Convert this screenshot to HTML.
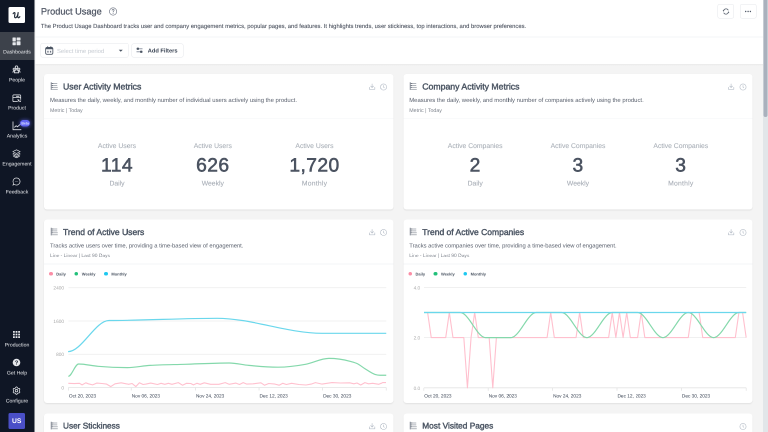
<!DOCTYPE html>
<html><head><meta charset="utf-8"><style>
html,body{margin:0;padding:0;width:768px;height:432px;overflow:hidden;background:#f4f4f4}
#root{position:absolute;left:0;top:0;width:1536px;height:864px;transform:scale(.5);transform-origin:0 0;will-change:transform;background:#f4f4f4;overflow:hidden;font-family:"Liberation Sans",sans-serif}
.t{position:absolute;white-space:nowrap;text-rendering:geometricPrecision}
.card{position:absolute;background:#fff;border-radius:6px;box-shadow:0 2px 3px rgba(0,0,0,.08),0 0 2px rgba(0,0,0,.03)}
</style></head><body><div id="root">
<div style="position:absolute;left:0;top:0;width:69px;height:864px;background:#0f1625"></div>
<div style="position:absolute;left:69px;top:0;width:2px;height:864px;background:#f1f1f1"></div>
<div style="position:absolute;left:17px;top:14px;width:33px;height:32px;background:#fff;border-radius:3px"></div>
<svg style="position:absolute;left:0;top:0" width="68" height="60" viewBox="0 0 68 60"><path d="M26.3,27.4 C27.2,25.2 29.8,24.3 30,26.6 L29.2,32.2 C28.8,35.2 30.8,36.4 32.8,34.6 C34.4,33.1 35.4,30.4 35.9,27.6 L36.3,25.2 L35.4,32.4 C35.1,35.2 36.8,36.2 38.4,34.8 L39.7,33.4" fill="none" stroke="#1f2937" stroke-width="2.3" stroke-linecap="round" stroke-linejoin="round"/></svg>
<div style="position:absolute;left:0;top:64px;width:69px;height:56px;background:#3d424b"></div>
<svg style="position:absolute;left:25px;top:75px;overflow:visible" width="16" height="16" viewBox="0 0 16 16"><rect x="0" y="0" width="6.6" height="8" rx="1" fill="#e5e7eb"/><rect x="8.2" y="0" width="7.8" height="6" rx="1" fill="#e5e7eb"/><rect x="0" y="9.6" width="6.6" height="6" rx="1" fill="#e5e7eb"/><rect x="8.2" y="7.6" width="7.8" height="8" rx="1" fill="#e5e7eb"/></svg>
<div class="t" style="left:-266px;width:600px;text-align:center;top:99.88px;font-size:10.3px;line-height:10.3px;color:#e5e7eb;font-weight:400;">Dashboards</div>
<svg style="position:absolute;left:25px;top:131px;overflow:visible" width="16" height="16" viewBox="0 0 16 16"><g fill="none" stroke="#e5e7eb" stroke-width="1.6"><circle cx="8" cy="3.4" r="2.6"/><circle cx="3.2" cy="7.2" r="2"/><circle cx="12.8" cy="7.2" r="2"/><path d="M0.8,14.2 Q1,10.6 3.6,10.4 M15.2,14.2 Q15,10.6 12.4,10.4 M3.8,14.6 Q4.2,8.6 8,8.4 Q11.8,8.6 12.2,14.6 Z"/></g></svg>
<div class="t" style="left:-266px;width:600px;text-align:center;top:155.88px;font-size:10.3px;line-height:10.3px;color:#e5e7eb;font-weight:400;">People</div>
<svg style="position:absolute;left:25px;top:188.5px;overflow:visible" width="17" height="16" viewBox="0 0 17 16"><g fill="none" stroke="#e5e7eb" stroke-width="1.5"><rect x="0.8" y="0.8" width="15.6" height="13.4" rx="1.8"/><line x1="0.8" y1="6" x2="16.4" y2="6"/></g><rect x="7" y="2.8" width="6.8" height="1.6" rx="0.8" fill="#e5e7eb"/><path d="M8.6,8 L16.8,11.2 L13.4,12.5 L12,16.4 Z" fill="#e5e7eb" stroke="#0f1625" stroke-width="1.1" stroke-linejoin="round"/></svg>
<div class="t" style="left:-266px;width:600px;text-align:center;top:211.88px;font-size:10.3px;line-height:10.3px;color:#e5e7eb;font-weight:400;">Product</div>
<svg style="position:absolute;left:25px;top:243px;overflow:visible" width="16" height="16" viewBox="0 0 16 16"><g fill="none" stroke="#e5e7eb" stroke-width="1.6"><path d="M1,0 V16.4 H17.6"/><path d="M4,11.4 L7.2,8.6 L10,10.4 L15.6,5.6"/></g></svg>
<div class="t" style="left:-266px;width:600px;text-align:center;top:267.88px;font-size:10.3px;line-height:10.3px;color:#e5e7eb;font-weight:400;">Analytics</div>
<svg style="position:absolute;left:25px;top:299px;overflow:visible" width="16" height="16" viewBox="0 0 16 16"><g fill="none" stroke="#e5e7eb" stroke-width="1.2" stroke-linejoin="round"><path d="M8,0.6 L15.4,4.3 L8,8 L0.6,4.3 Z"/><path d="M0.6,7.4 L8,11.1 L15.4,7.4"/><path d="M0.6,10.4 L8,14.1 L15.4,10.4"/><path d="M1.6,13.4 L8,16.6 L14.4,13.4"/></g></svg>
<div class="t" style="left:-266px;width:600px;text-align:center;top:323.88px;font-size:10.3px;line-height:10.3px;color:#e5e7eb;font-weight:400;">Engagement</div>
<svg style="position:absolute;left:25px;top:355px;overflow:visible" width="16" height="16" viewBox="0 0 16 16"><g fill="none" stroke="#e5e7eb" stroke-width="1.3"><path d="M8,0.9 A7.1,7.1 0 1 1 4.2,14 L0.9,15.2 L2.2,11.8 A7.1,7.1 0 0 1 8,0.9 Z"/></g><g fill="#e5e7eb" opacity="0.7"><circle cx="5.6" cy="8" r="0.7"/><circle cx="8" cy="8" r="0.7"/><circle cx="10.4" cy="8" r="0.7"/></g></svg>
<div class="t" style="left:-266px;width:600px;text-align:center;top:379.88px;font-size:10.3px;line-height:10.3px;color:#e5e7eb;font-weight:400;">Feedback</div>
<div style="position:absolute;left:40.4px;top:240px;width:20px;height:13px;border-radius:7px;background:#6366f1;box-shadow:0 0 6px 1px rgba(99,102,241,.55)"></div>
<div class="t" style="left:-249.6px;width:600px;text-align:center;top:244.07px;font-size:7px;line-height:7px;color:#e0e7ff;font-weight:700;">Beta</div>
<svg style="position:absolute;left:26px;top:662px;overflow:visible" width="14" height="14" viewBox="0 0 14 14"><rect x="0" y="0" width="3.6" height="3.6" rx="0.6" fill="#e5e7eb"/><rect x="0" y="5.2" width="3.6" height="3.6" rx="0.6" fill="#e5e7eb"/><rect x="0" y="10.4" width="3.6" height="3.6" rx="0.6" fill="#e5e7eb"/><rect x="5.2" y="0" width="3.6" height="3.6" rx="0.6" fill="#e5e7eb"/><rect x="5.2" y="5.2" width="3.6" height="3.6" rx="0.6" fill="#e5e7eb"/><rect x="5.2" y="10.4" width="3.6" height="3.6" rx="0.6" fill="#e5e7eb"/><rect x="10.4" y="0" width="3.6" height="3.6" rx="0.6" fill="#e5e7eb"/><rect x="10.4" y="5.2" width="3.6" height="3.6" rx="0.6" fill="#e5e7eb"/><rect x="10.4" y="10.4" width="3.6" height="3.6" rx="0.6" fill="#e5e7eb"/></svg>
<div class="t" style="left:-266px;width:600px;text-align:center;top:685.88px;font-size:10.3px;line-height:10.3px;color:#e5e7eb;font-weight:400;">Production</div>
<svg style="position:absolute;left:25px;top:717px;overflow:visible" width="16" height="16" viewBox="0 0 16 16"><circle cx="8" cy="8" r="7.6" fill="#e5e7eb"/><text x="8" y="12.2" text-anchor="middle" font-family="Liberation Sans" font-weight="700" font-size="11.5" fill="#111827">?</text></svg>
<div class="t" style="left:-266px;width:600px;text-align:center;top:741.88px;font-size:10.3px;line-height:10.3px;color:#e5e7eb;font-weight:400;">Get Help</div>
<svg style="position:absolute;left:25px;top:773px;overflow:visible" width="16" height="16" viewBox="0 0 16 16"><g fill="none" stroke="#e5e7eb" stroke-width="1.5" stroke-linejoin="round"><path d="M13.55,8.30 L13.66,7.81 L13.93,7.25 L14.28,6.62 L14.55,5.91 L14.64,5.21 L14.45,4.58 L14.00,4.10 L13.34,3.82 L12.60,3.70 L11.87,3.68 L11.26,3.65 L10.78,3.49 L10.40,3.15 L10.06,2.64 L9.68,2.02 L9.21,1.43 L8.64,1.01 L8.00,0.85 L7.36,1.01 L6.79,1.43 L6.32,2.02 L5.94,2.64 L5.60,3.15 L5.23,3.49 L4.74,3.65 L4.13,3.68 L3.40,3.70 L2.66,3.82 L2.00,4.10 L1.55,4.57 L1.36,5.21 L1.45,5.91 L1.72,6.62 L2.07,7.25 L2.34,7.81 L2.45,8.30 L2.34,8.79 L2.07,9.35 L1.72,9.98 L1.45,10.69 L1.36,11.39 L1.55,12.03 L2.00,12.50 L2.66,12.78 L3.40,12.90 L4.13,12.92 L4.74,12.95 L5.22,13.11 L5.60,13.45 L5.94,13.96 L6.32,14.58 L6.79,15.17 L7.36,15.59 L8.00,15.75 L8.64,15.59 L9.21,15.17 L9.68,14.58 L10.06,13.96 L10.40,13.45 L10.77,13.11 L11.26,12.95 L11.87,12.92 L12.60,12.90 L13.34,12.78 L14.00,12.50 L14.45,12.02 L14.64,11.39 L14.55,10.69 L14.28,9.98 L13.93,9.35 L13.66,8.79 Z"/><circle cx="8" cy="8.3" r="2.5"/></g></svg>
<div class="t" style="left:-266px;width:600px;text-align:center;top:797.88px;font-size:10.3px;line-height:10.3px;color:#e5e7eb;font-weight:400;">Configure</div>
<div style="position:absolute;left:17px;top:826px;width:33px;height:32px;background:#4a4fc7;border-radius:3px"></div>
<div class="t" style="left:-266.5px;width:600px;text-align:center;top:834.57px;font-size:13.5px;line-height:13.5px;color:#fff;font-weight:700;">US</div>
<div style="position:absolute;left:71px;top:0;width:1454px;height:128px;background:#fff"></div>
<div style="position:absolute;left:71px;top:73px;width:1454px;height:2px;background:#f3f4f6"></div>
<div style="position:absolute;left:71px;top:128px;width:1454px;height:4px;background:linear-gradient(#e9e9e9,#f4f4f4)"></div>
<div class="t" style="left:81.8px;top:13.92px;font-size:18.4px;line-height:18.4px;color:#505765;font-weight:400;-webkit-text-stroke:0.5px #505765;">Product Usage</div>
<svg style="position:absolute;left:217px;top:13.6px" width="18" height="18" viewBox="0 0 18 18"><circle cx="9.2" cy="9" r="7.3" fill="none" stroke="#6b7280" stroke-width="1.3"/><path d="M7.2,6.6 C7.2,4.4 11.2,4.4 11.2,6.6 C11.2,8.2 9.2,8.4 9.2,10.2" fill="none" stroke="#6b7280" stroke-width="1.4" stroke-linecap="round"/><circle cx="9.2" cy="12.9" r="0.9" fill="#6b7280"/></svg>
<div class="t" style="left:81.8px;top:47.25px;font-size:11.75px;line-height:11.75px;color:#474e5b;font-weight:400;-webkit-text-stroke:0.15px #474e5b;">The Product Usage Dashboard tracks user and company engagement metrics, popular pages, and features. It highlights trends, user stickiness, top interactions, and browser preferences.</div>
<div style="position:absolute;left:81px;top:86px;width:174px;height:27px;border:1px solid #e5e7eb;border-radius:4px;background:#fff"></div>
<svg style="position:absolute;left:90px;top:92px" width="17" height="18" viewBox="0 0 17 18"><rect x="1.3" y="2.8" width="14.4" height="13.8" rx="2.8" fill="none" stroke="#4b5563" stroke-width="1.7"/><rect x="1.3" y="2.8" width="14.4" height="3.8" rx="1.5" fill="#4b5563"/><rect x="4.4" y="0.4" width="1.8" height="3.6" rx="0.9" fill="#4b5563"/><rect x="10.8" y="0.4" width="1.8" height="3.6" rx="0.9" fill="#4b5563"/><rect x="4.6" y="9.6" width="2.6" height="3.6" fill="#6b7280"/><rect x="9.8" y="9.6" width="2.6" height="3.6" fill="#6b7280"/></svg>
<div class="t" style="left:114px;top:96.81px;font-size:11.8px;line-height:11.8px;color:#c5cad1;font-weight:400;">Select time period</div>
<svg style="position:absolute;left:237px;top:99px" width="9" height="5" viewBox="0 0 9 5"><path d="M0.5,0.5 H8.5 L4.5,4.5 Z" fill="#4b5563"/></svg>
<div style="position:absolute;left:263px;top:87px;width:102px;height:26px;border:1px solid #e5e7eb;border-radius:4px;background:#fff"></div>
<svg style="position:absolute;left:273px;top:95px" width="14" height="12" viewBox="0 0 14 12"><rect x="0" y="1.4" width="12" height="2.2" fill="#9ca3af"/><rect x="0.5" y="0.2" width="4.4" height="4.6" rx="1.2" fill="#4b5563"/><rect x="0" y="7.4" width="12" height="2.2" fill="#9ca3af"/><rect x="7.2" y="6.2" width="4.6" height="4.6" rx="1.2" fill="#4b5563"/></svg>
<div class="t" style="left:295.5px;top:97.35px;font-size:11.4px;line-height:11.4px;color:#374151;font-weight:700;">Add Filters</div>
<div style="position:absolute;left:1435px;top:8px;width:31px;height:27px;border:1px solid #e5e7eb;border-radius:4px;background:#fff"></div>
<svg style="position:absolute;left:1445px;top:15.5px" width="14" height="14" viewBox="0 0 14 14"><g fill="none" stroke="#4b5563" stroke-width="1.3"><path d="M2.2,5.6 A5,5 0 0 1 11.6,4.6"/><path d="M11.8,8.4 A5,5 0 0 1 2.4,9.4"/></g><path d="M0.4,4.6 L3.8,4.8 L1.9,7.4 Z" fill="#4b5563"/><path d="M13.6,9.4 L10.2,9.2 L12.1,6.6 Z" fill="#4b5563"/></svg>
<div style="position:absolute;left:1480px;top:8px;width:31px;height:27px;border:1px solid #e5e7eb;border-radius:4px;background:#fff"></div>
<svg style="position:absolute;left:1488px;top:20px" width="16" height="6" viewBox="0 0 16 6"><circle cx="3.4" cy="3" r="1.4" fill="#4b5563"/><circle cx="8.2" cy="3" r="1.4" fill="#4b5563"/><circle cx="12.8" cy="3" r="1.4" fill="#4b5563"/></svg>
<div class="card" style="left:88px;top:148px;width:698.5px;height:270.8px"></div>
<svg style="position:absolute;left:100.8px;top:164.2px" width="16" height="16" viewBox="0 0 16 16"><line x1="1.4" y1="0.5" x2="1.4" y2="15.8" stroke="#6b7280" stroke-width="1.6"/><g stroke="#8d939c" stroke-width="1.4" fill="none"><line x1="2.5" y1="3" x2="13.5" y2="3"/><line x1="2.5" y1="6.8" x2="13.5" y2="6.8"/><line x1="2.5" y1="10.6" x2="14.5" y2="10.6"/><line x1="2.5" y1="14.6" x2="14.5" y2="14.6"/></g><g stroke="#5b626e" stroke-width="1.4"><line x1="2.5" y1="3" x2="5.5" y2="3"/><line x1="2.5" y1="6.8" x2="5" y2="6.8"/><line x1="2.5" y1="10.6" x2="5" y2="10.6"/></g></svg>
<div class="t" style="left:126px;top:164.65px;font-size:17.42px;line-height:17.42px;color:#4b5563;font-weight:400;-webkit-text-stroke:0.8px #4b5563;">User Activity Metrics</div>
<svg style="position:absolute;left:736.5px;top:167px" width="14" height="13" viewBox="0 0 14 13"><g fill="none" stroke="#b9c0ca" stroke-width="1.4" stroke-linecap="round" stroke-linejoin="round"><path d="M7.2,0.9 V7.8"/><path d="M4.4,5.2 L7.2,8 L10,5.2"/><path d="M1.8,7.8 V11.6 H12.6 V7.8"/></g></svg>
<svg style="position:absolute;left:759.2px;top:166.2px" width="16" height="16" viewBox="0 0 16 16"><g fill="none" stroke="#b9c0ca" stroke-width="1.3" stroke-linecap="round"><circle cx="8" cy="8" r="6.2"/><path d="M8,4.8 V8.3 L9.6,9.6"/></g></svg>
<div class="t" style="left:100px;top:194.75px;font-size:11.87px;line-height:11.87px;color:#585f6c;font-weight:400;">Measures the daily, weekly, and monthly number of individual users actively using the product.</div>
<div class="t" style="left:100px;top:215.85px;font-size:10.57px;line-height:10.57px;color:#80868f;font-weight:400;">Metric | Today</div>
<div style="position:absolute;left:88px;top:236.5px;width:698.5px;height:1.5px;background:#f3f4f6"></div>
<div class="card" style="left:806.5px;top:148px;width:698.5px;height:270.8px"></div>
<svg style="position:absolute;left:819.3px;top:164.2px" width="16" height="16" viewBox="0 0 16 16"><line x1="1.4" y1="0.5" x2="1.4" y2="15.8" stroke="#6b7280" stroke-width="1.6"/><g stroke="#8d939c" stroke-width="1.4" fill="none"><line x1="2.5" y1="3" x2="13.5" y2="3"/><line x1="2.5" y1="6.8" x2="13.5" y2="6.8"/><line x1="2.5" y1="10.6" x2="14.5" y2="10.6"/><line x1="2.5" y1="14.6" x2="14.5" y2="14.6"/></g><g stroke="#5b626e" stroke-width="1.4"><line x1="2.5" y1="3" x2="5.5" y2="3"/><line x1="2.5" y1="6.8" x2="5" y2="6.8"/><line x1="2.5" y1="10.6" x2="5" y2="10.6"/></g></svg>
<div class="t" style="left:844.5px;top:164.67px;font-size:17.41px;line-height:17.41px;color:#4b5563;font-weight:400;-webkit-text-stroke:0.8px #4b5563;">Company Activity Metrics</div>
<svg style="position:absolute;left:1455px;top:167px" width="14" height="13" viewBox="0 0 14 13"><g fill="none" stroke="#b9c0ca" stroke-width="1.4" stroke-linecap="round" stroke-linejoin="round"><path d="M7.2,0.9 V7.8"/><path d="M4.4,5.2 L7.2,8 L10,5.2"/><path d="M1.8,7.8 V11.6 H12.6 V7.8"/></g></svg>
<svg style="position:absolute;left:1477.7px;top:166.2px" width="16" height="16" viewBox="0 0 16 16"><g fill="none" stroke="#b9c0ca" stroke-width="1.3" stroke-linecap="round"><circle cx="8" cy="8" r="6.2"/><path d="M8,4.8 V8.3 L9.6,9.6"/></g></svg>
<div class="t" style="left:818.5px;top:194.77px;font-size:11.85px;line-height:11.85px;color:#585f6c;font-weight:400;">Measures the daily, weekly, and monthly number of companies actively using the product.</div>
<div class="t" style="left:818.5px;top:215.85px;font-size:10.57px;line-height:10.57px;color:#80868f;font-weight:400;">Metric | Today</div>
<div style="position:absolute;left:806.5px;top:236.5px;width:698.5px;height:1.5px;background:#f3f4f6"></div>
<div class="card" style="left:88px;top:438.8px;width:698.5px;height:367.7px"></div>
<svg style="position:absolute;left:100.8px;top:455px" width="16" height="16" viewBox="0 0 16 16"><line x1="1.4" y1="0.5" x2="1.4" y2="15.8" stroke="#6b7280" stroke-width="1.6"/><g stroke="#8d939c" stroke-width="1.4" fill="none"><line x1="2.5" y1="3" x2="13.5" y2="3"/><line x1="2.5" y1="6.8" x2="13.5" y2="6.8"/><line x1="2.5" y1="10.6" x2="14.5" y2="10.6"/><line x1="2.5" y1="14.6" x2="14.5" y2="14.6"/></g><g stroke="#5b626e" stroke-width="1.4"><line x1="2.5" y1="3" x2="5.5" y2="3"/><line x1="2.5" y1="6.8" x2="5" y2="6.8"/><line x1="2.5" y1="10.6" x2="5" y2="10.6"/></g></svg>
<div class="t" style="left:126px;top:455.74px;font-size:17.08px;line-height:17.08px;color:#4b5563;font-weight:400;-webkit-text-stroke:0.8px #4b5563;">Trend of Active Users</div>
<svg style="position:absolute;left:736.5px;top:457.8px" width="14" height="13" viewBox="0 0 14 13"><g fill="none" stroke="#b9c0ca" stroke-width="1.4" stroke-linecap="round" stroke-linejoin="round"><path d="M7.2,0.9 V7.8"/><path d="M4.4,5.2 L7.2,8 L10,5.2"/><path d="M1.8,7.8 V11.6 H12.6 V7.8"/></g></svg>
<svg style="position:absolute;left:759.2px;top:457px" width="16" height="16" viewBox="0 0 16 16"><g fill="none" stroke="#b9c0ca" stroke-width="1.3" stroke-linecap="round"><circle cx="8" cy="8" r="6.2"/><path d="M8,4.8 V8.3 L9.6,9.6"/></g></svg>
<div class="t" style="left:100px;top:485.71px;font-size:11.68px;line-height:11.68px;color:#585f6c;font-weight:400;">Tracks active users over time, providing a time-based view of engagement.</div>
<div class="t" style="left:100px;top:507.25px;font-size:9.86px;line-height:9.86px;color:#80868f;font-weight:400;">Line - Linear | Last 90 Days</div>
<div style="position:absolute;left:88px;top:527.3px;width:698.5px;height:1.5px;background:#f3f4f6"></div>
<div class="card" style="left:806.5px;top:438.8px;width:698.5px;height:367.7px"></div>
<svg style="position:absolute;left:819.3px;top:455px" width="16" height="16" viewBox="0 0 16 16"><line x1="1.4" y1="0.5" x2="1.4" y2="15.8" stroke="#6b7280" stroke-width="1.6"/><g stroke="#8d939c" stroke-width="1.4" fill="none"><line x1="2.5" y1="3" x2="13.5" y2="3"/><line x1="2.5" y1="6.8" x2="13.5" y2="6.8"/><line x1="2.5" y1="10.6" x2="14.5" y2="10.6"/><line x1="2.5" y1="14.6" x2="14.5" y2="14.6"/></g><g stroke="#5b626e" stroke-width="1.4"><line x1="2.5" y1="3" x2="5.5" y2="3"/><line x1="2.5" y1="6.8" x2="5" y2="6.8"/><line x1="2.5" y1="10.6" x2="5" y2="10.6"/></g></svg>
<div class="t" style="left:844.5px;top:455.78px;font-size:17.04px;line-height:17.04px;color:#4b5563;font-weight:400;-webkit-text-stroke:0.8px #4b5563;">Trend of Active Companies</div>
<svg style="position:absolute;left:1455px;top:457.8px" width="14" height="13" viewBox="0 0 14 13"><g fill="none" stroke="#b9c0ca" stroke-width="1.4" stroke-linecap="round" stroke-linejoin="round"><path d="M7.2,0.9 V7.8"/><path d="M4.4,5.2 L7.2,8 L10,5.2"/><path d="M1.8,7.8 V11.6 H12.6 V7.8"/></g></svg>
<svg style="position:absolute;left:1477.7px;top:457px" width="16" height="16" viewBox="0 0 16 16"><g fill="none" stroke="#b9c0ca" stroke-width="1.3" stroke-linecap="round"><circle cx="8" cy="8" r="6.2"/><path d="M8,4.8 V8.3 L9.6,9.6"/></g></svg>
<div class="t" style="left:818.5px;top:485.71px;font-size:11.68px;line-height:11.68px;color:#585f6c;font-weight:400;">Tracks active companies over time, providing a time-based view of engagement.</div>
<div class="t" style="left:818.5px;top:507.25px;font-size:9.86px;line-height:9.86px;color:#80868f;font-weight:400;">Line - Linear | Last 90 Days</div>
<div style="position:absolute;left:806.5px;top:527.3px;width:698.5px;height:1.5px;background:#f3f4f6"></div>
<div class="card" style="left:88px;top:826.5px;width:698.5px;height:200px"></div>
<svg style="position:absolute;left:100.8px;top:842.7px" width="16" height="16" viewBox="0 0 16 16"><line x1="1.4" y1="0.5" x2="1.4" y2="15.8" stroke="#6b7280" stroke-width="1.6"/><g stroke="#8d939c" stroke-width="1.4" fill="none"><line x1="2.5" y1="3" x2="13.5" y2="3"/><line x1="2.5" y1="6.8" x2="13.5" y2="6.8"/><line x1="2.5" y1="10.6" x2="14.5" y2="10.6"/><line x1="2.5" y1="14.6" x2="14.5" y2="14.6"/></g><g stroke="#5b626e" stroke-width="1.4"><line x1="2.5" y1="3" x2="5.5" y2="3"/><line x1="2.5" y1="6.8" x2="5" y2="6.8"/><line x1="2.5" y1="10.6" x2="5" y2="10.6"/></g></svg>
<div class="t" style="left:126px;top:843.91px;font-size:16.53px;line-height:16.53px;color:#4b5563;font-weight:400;-webkit-text-stroke:0.8px #4b5563;">User Stickiness</div>
<svg style="position:absolute;left:736.5px;top:845.5px" width="14" height="13" viewBox="0 0 14 13"><g fill="none" stroke="#b9c0ca" stroke-width="1.4" stroke-linecap="round" stroke-linejoin="round"><path d="M7.2,0.9 V7.8"/><path d="M4.4,5.2 L7.2,8 L10,5.2"/><path d="M1.8,7.8 V11.6 H12.6 V7.8"/></g></svg>
<svg style="position:absolute;left:759.2px;top:844.7px" width="16" height="16" viewBox="0 0 16 16"><g fill="none" stroke="#b9c0ca" stroke-width="1.3" stroke-linecap="round"><circle cx="8" cy="8" r="6.2"/><path d="M8,4.8 V8.3 L9.6,9.6"/></g></svg>
<div class="card" style="left:806.5px;top:826.5px;width:698.5px;height:200px"></div>
<svg style="position:absolute;left:819.3px;top:842.7px" width="16" height="16" viewBox="0 0 16 16"><line x1="1.4" y1="0.5" x2="1.4" y2="15.8" stroke="#6b7280" stroke-width="1.6"/><g stroke="#8d939c" stroke-width="1.4" fill="none"><line x1="2.5" y1="3" x2="13.5" y2="3"/><line x1="2.5" y1="6.8" x2="13.5" y2="6.8"/><line x1="2.5" y1="10.6" x2="14.5" y2="10.6"/><line x1="2.5" y1="14.6" x2="14.5" y2="14.6"/></g><g stroke="#5b626e" stroke-width="1.4"><line x1="2.5" y1="3" x2="5.5" y2="3"/><line x1="2.5" y1="6.8" x2="5" y2="6.8"/><line x1="2.5" y1="10.6" x2="5" y2="10.6"/></g></svg>
<div class="t" style="left:844.5px;top:843.81px;font-size:16.65px;line-height:16.65px;color:#4b5563;font-weight:400;-webkit-text-stroke:0.8px #4b5563;">Most Visited Pages</div>
<svg style="position:absolute;left:1477.7px;top:844.7px" width="16" height="16" viewBox="0 0 16 16"><g fill="none" stroke="#b9c0ca" stroke-width="1.3" stroke-linecap="round"><circle cx="8" cy="8" r="6.2"/><path d="M8,4.8 V8.3 L9.6,9.6"/></g></svg>
<div class="t" style="left:-66px;width:600px;text-align:center;top:284.59px;font-size:13.6px;line-height:13.6px;color:#aab0b8;font-weight:400;-webkit-text-stroke:0.15px #aab0b8;">Active Users</div>
<div class="t" style="left:-66px;width:600px;text-align:center;top:311.91px;font-size:38.5px;line-height:38.5px;color:#4a5260;font-weight:400;-webkit-text-stroke:1.1px #4a5260;letter-spacing:0.8px;">114</div>
<div class="t" style="left:-66px;width:600px;text-align:center;top:360.29px;font-size:13.6px;line-height:13.6px;color:#a6acb5;font-weight:400;-webkit-text-stroke:0.15px #a6acb5;">Daily</div>
<div class="t" style="left:125.6px;width:600px;text-align:center;top:284.59px;font-size:13.6px;line-height:13.6px;color:#aab0b8;font-weight:400;-webkit-text-stroke:0.15px #aab0b8;">Active Users</div>
<div class="t" style="left:125.6px;width:600px;text-align:center;top:311.91px;font-size:38.5px;line-height:38.5px;color:#4a5260;font-weight:400;-webkit-text-stroke:1.1px #4a5260;letter-spacing:0.8px;">626</div>
<div class="t" style="left:125.6px;width:600px;text-align:center;top:360.29px;font-size:13.6px;line-height:13.6px;color:#a6acb5;font-weight:400;-webkit-text-stroke:0.15px #a6acb5;">Weekly</div>
<div class="t" style="left:329px;width:600px;text-align:center;top:284.59px;font-size:13.6px;line-height:13.6px;color:#aab0b8;font-weight:400;-webkit-text-stroke:0.15px #aab0b8;">Active Users</div>
<div class="t" style="left:329px;width:600px;text-align:center;top:311.91px;font-size:38.5px;line-height:38.5px;color:#4a5260;font-weight:400;-webkit-text-stroke:1.1px #4a5260;letter-spacing:0.8px;">1,720</div>
<div class="t" style="left:329px;width:600px;text-align:center;top:360.29px;font-size:13.6px;line-height:13.6px;color:#a6acb5;font-weight:400;-webkit-text-stroke:0.15px #a6acb5;letter-spacing:0.45px;">Monthly</div>
<div class="t" style="left:650.4px;width:600px;text-align:center;top:284.59px;font-size:13.6px;line-height:13.6px;color:#aab0b8;font-weight:400;-webkit-text-stroke:0.15px #aab0b8;">Active Companies</div>
<div class="t" style="left:650.4px;width:600px;text-align:center;top:311.91px;font-size:38.5px;line-height:38.5px;color:#4a5260;font-weight:400;-webkit-text-stroke:1.1px #4a5260;letter-spacing:0.8px;">2</div>
<div class="t" style="left:650.4px;width:600px;text-align:center;top:360.29px;font-size:13.6px;line-height:13.6px;color:#a6acb5;font-weight:400;-webkit-text-stroke:0.15px #a6acb5;">Daily</div>
<div class="t" style="left:856px;width:600px;text-align:center;top:284.59px;font-size:13.6px;line-height:13.6px;color:#aab0b8;font-weight:400;-webkit-text-stroke:0.15px #aab0b8;">Active Companies</div>
<div class="t" style="left:856px;width:600px;text-align:center;top:311.91px;font-size:38.5px;line-height:38.5px;color:#4a5260;font-weight:400;-webkit-text-stroke:1.1px #4a5260;letter-spacing:0.8px;">3</div>
<div class="t" style="left:856px;width:600px;text-align:center;top:360.29px;font-size:13.6px;line-height:13.6px;color:#a6acb5;font-weight:400;-webkit-text-stroke:0.15px #a6acb5;">Weekly</div>
<div class="t" style="left:1061.6px;width:600px;text-align:center;top:284.59px;font-size:13.6px;line-height:13.6px;color:#aab0b8;font-weight:400;-webkit-text-stroke:0.15px #aab0b8;">Active Companies</div>
<div class="t" style="left:1061.6px;width:600px;text-align:center;top:311.91px;font-size:38.5px;line-height:38.5px;color:#4a5260;font-weight:400;-webkit-text-stroke:1.1px #4a5260;letter-spacing:0.8px;">3</div>
<div class="t" style="left:1061.6px;width:600px;text-align:center;top:360.29px;font-size:13.6px;line-height:13.6px;color:#a6acb5;font-weight:400;-webkit-text-stroke:0.15px #a6acb5;letter-spacing:0.45px;">Monthly</div>
<div style="position:absolute;left:98px;top:543.9px;width:7.6px;height:7.6px;border-radius:50%;background:#fb8ea6"></div>
<div class="t" style="left:112.5px;top:545.43px;font-size:8px;line-height:8px;color:#4b5563;font-weight:700;">Daily</div>
<div style="position:absolute;left:148.8px;top:543.9px;width:7.6px;height:7.6px;border-radius:50%;background:#22c07a"></div>
<div class="t" style="left:163.5px;top:545.43px;font-size:8px;line-height:8px;color:#4b5563;font-weight:700;">Weekly</div>
<div style="position:absolute;left:208.4px;top:543.9px;width:7.6px;height:7.6px;border-radius:50%;background:#1ec8f0"></div>
<div class="t" style="left:222.8px;top:545.43px;font-size:8px;line-height:8px;color:#4b5563;font-weight:700;">Monthly</div>
<div style="position:absolute;left:816.5px;top:543.9px;width:7.6px;height:7.6px;border-radius:50%;background:#fb8ea6"></div>
<div class="t" style="left:831px;top:545.43px;font-size:8px;line-height:8px;color:#4b5563;font-weight:700;">Daily</div>
<div style="position:absolute;left:867.3px;top:543.9px;width:7.6px;height:7.6px;border-radius:50%;background:#22c07a"></div>
<div class="t" style="left:882px;top:545.43px;font-size:8px;line-height:8px;color:#4b5563;font-weight:700;">Weekly</div>
<div style="position:absolute;left:926.9px;top:543.9px;width:7.6px;height:7.6px;border-radius:50%;background:#1ec8f0"></div>
<div class="t" style="left:941.3px;top:545.43px;font-size:8px;line-height:8px;color:#4b5563;font-weight:700;">Monthly</div>
<div class="t" style="right:1408px;top:572.46px;font-size:9.5px;line-height:9.5px;color:#ababab;font-weight:400;">2400</div>
<div class="t" style="right:1408px;top:638.96px;font-size:9.5px;line-height:9.5px;color:#ababab;font-weight:400;">1600</div>
<div class="t" style="right:1408px;top:705.46px;font-size:9.5px;line-height:9.5px;color:#ababab;font-weight:400;">800</div>
<div class="t" style="right:1408px;top:771.96px;font-size:9.5px;line-height:9.5px;color:#ababab;font-weight:400;">0</div>
<div class="t" style="right:695.6px;top:571.76px;font-size:9.5px;line-height:9.5px;color:#ababab;font-weight:400;">4.0</div>
<div class="t" style="right:695.6px;top:672.16px;font-size:9.5px;line-height:9.5px;color:#ababab;font-weight:400;">2.0</div>
<div class="t" style="right:695.6px;top:772.56px;font-size:9.5px;line-height:9.5px;color:#ababab;font-weight:400;">0.0</div>
<div class="t" style="left:137.8px;top:787.76px;font-size:9.5px;line-height:9.5px;color:#374151;font-weight:400;">Oct 20, 2023</div>
<div class="t" style="left:848.6px;top:787.76px;font-size:9.5px;line-height:9.5px;color:#374151;font-weight:400;">Oct 20, 2023</div>
<div class="t" style="left:263.5px;top:787.76px;font-size:9.5px;line-height:9.5px;color:#374151;font-weight:400;">Nov 06, 2023</div>
<div class="t" style="left:977.4px;top:787.76px;font-size:9.5px;line-height:9.5px;color:#374151;font-weight:400;">Nov 06, 2023</div>
<div class="t" style="left:392px;top:787.76px;font-size:9.5px;line-height:9.5px;color:#374151;font-weight:400;">Nov 24, 2023</div>
<div class="t" style="left:1106.2px;top:787.76px;font-size:9.5px;line-height:9.5px;color:#374151;font-weight:400;">Nov 24, 2023</div>
<div class="t" style="left:519.1px;top:787.76px;font-size:9.5px;line-height:9.5px;color:#374151;font-weight:400;">Dec 12, 2023</div>
<div class="t" style="left:1235px;top:787.76px;font-size:9.5px;line-height:9.5px;color:#374151;font-weight:400;">Dec 12, 2023</div>
<div class="t" style="left:646.2px;top:787.76px;font-size:9.5px;line-height:9.5px;color:#374151;font-weight:400;">Dec 30, 2023</div>
<div class="t" style="left:1363.8px;top:787.76px;font-size:9.5px;line-height:9.5px;color:#374151;font-weight:400;">Dec 30, 2023</div>
<svg style="position:absolute;left:0;top:0" width="1536" height="864" viewBox="0 0 1536 864"><line x1="136.8" y1="575.5" x2="772.5" y2="575.5" stroke="#ebebeb" stroke-width="1.6"/>
<line x1="136.8" y1="642" x2="772.5" y2="642" stroke="#ebebeb" stroke-width="1.6"/>
<line x1="136.8" y1="708.5" x2="772.5" y2="708.5" stroke="#ebebeb" stroke-width="1.6"/>
<line x1="136.8" y1="775" x2="772.5" y2="775" stroke="#e3e3e3" stroke-width="1.6"/>
<line x1="136.8" y1="775" x2="136.8" y2="781" stroke="#e3e3e3" stroke-width="1.6"/>
<line x1="262.5" y1="775" x2="262.5" y2="781" stroke="#e3e3e3" stroke-width="1.6"/>
<line x1="391" y1="775" x2="391" y2="781" stroke="#e3e3e3" stroke-width="1.6"/>
<line x1="518.1" y1="775" x2="518.1" y2="781" stroke="#e3e3e3" stroke-width="1.6"/>
<line x1="645.2" y1="775" x2="645.2" y2="781" stroke="#e3e3e3" stroke-width="1.6"/>
<line x1="772.5" y1="775" x2="772.5" y2="781" stroke="#e3e3e3" stroke-width="1.6"/>
<line x1="848.0" y1="574.8" x2="1492.4" y2="574.8" stroke="#ebebeb" stroke-width="1.6"/>
<line x1="848.0" y1="675.2" x2="1492.4" y2="675.2" stroke="#ebebeb" stroke-width="1.6"/>
<line x1="848.0" y1="775.6" x2="1492.4" y2="775.6" stroke="#e3e3e3" stroke-width="1.6"/>
<line x1="847.6" y1="775.6" x2="847.6" y2="781.6" stroke="#e3e3e3" stroke-width="1.6"/>
<line x1="976.4" y1="775.6" x2="976.4" y2="781.6" stroke="#e3e3e3" stroke-width="1.6"/>
<line x1="1105.2" y1="775.6" x2="1105.2" y2="781.6" stroke="#e3e3e3" stroke-width="1.6"/>
<line x1="1234" y1="775.6" x2="1234" y2="781.6" stroke="#e3e3e3" stroke-width="1.6"/>
<line x1="1362.8" y1="775.6" x2="1362.8" y2="781.6" stroke="#e3e3e3" stroke-width="1.6"/>
<line x1="1492.4" y1="775.6" x2="1492.4" y2="781.6" stroke="#e3e3e3" stroke-width="1.6"/>
<path d="M136.6,766.6 L148.6,767.2 L159,766.6 L164.2,769.8 L171.6,765.6 L176.8,767.6 L185.2,769.8 L193.4,766.2 L203.8,767 L213.2,768.2 L221.6,773.2 L230,767.6 L242.4,765.6 L257,768.6 L264.2,767 L271.6,773.2 L278.8,765.6 L286.2,769 L292,768.2 L301.4,766.2 L315,769 L322.2,766.6 L329.5,768.6 L336.8,766.6 L344,768.6 L356.6,765.2 L365,770.4 L373.2,766.6 L381.6,767 L386.8,769.8 L394,766.6 L400.4,768.6 L408.6,765.6 L421.2,768.6 L437.8,768.6 L450.4,765.2 L458.2,768.6 L471.8,766.2 L479,769 L486.4,765.2 L493.6,768.2 L506.2,767.6 L521.8,765.6 L529,770.4 L537.4,767 L550,768.2 L558.2,770.4 L565.6,766.6 L572.8,769 L583.2,766.6 L597.8,769 L612,770 L622.4,768.2 L630.8,765.2 L644.2,768.2 L664,765.2 L680.8,766 L699.5,765.6 L707.8,767.6 L714,766 L721.4,770 L729.8,765.2 L737,767.6 L745.4,766.6 L757.8,768.6 L765.2,765.2 L772,765.2" fill="none" stroke="#ffc0ce" stroke-width="2.2" stroke-linejoin="round"/>
<path d="M136.6,752.5C143.47,752.5 150.33,728 157.2,728C170.13,728 183.07,731.46 196,732.6C215.6,734.33 235.2,735.2 254.8,735.2C269.87,735.2 284.93,731.75 300,730.8C323.33,729.33 346.67,729.31 370,728.6C399.53,727.7 429.07,726 458.6,726C471.6,726 484.6,729.52 497.6,730.8C517.07,732.72 536.53,734.4 556,734.4C574.33,734.4 592.67,731.99 611,728.6C626.6,725.72 642.2,716.8 657.8,716.8C671.87,716.8 685.93,718.73 700,722.6C705,723.97 710,725.02 715,727.5C720,729.98 725,734.38 730,737.5C736.67,741.65 743.33,746.79 750,748.8C753.33,749.81 756.67,750.5 760,750.5C764.17,750.5 768.33,750.5 772.5,750.5" fill="none" stroke="#84d8ab" stroke-width="2.4" stroke-linejoin="round"/>
<path d="M136.2,703.2C163.47,703.2 190.73,641 218,641C290,641 362,636.6 434,636.6C504,636.6 574,666.6 644,666.6C686.83,666.6 729.67,666.6 772.5,666.6" fill="none" stroke="#6ad7ec" stroke-width="2.4" stroke-linejoin="round"/>
<path d="M848,625 L855.24,625 L862.48,675.2 L869.72,675.2 L876.96,675.2 L884.2,675.2 L891.44,675.2 L898.68,625 L905.92,675.2 L913.16,675.2 L920.4,675.2 L927.64,675.2 L934.88,775.6 L942.12,675.2 L949.36,625 L956.6,675.2 L963.84,675.2 L971.08,675.2 L978.32,675.2 L985.56,775.6 L992.8,675.2 L1000.04,675.2 L1007.28,675.2 L1014.52,675.2 L1021.76,675.2 L1029,675.2 L1036.24,675.2 L1043.48,675.2 L1050.72,675.2 L1057.96,675.2 L1065.2,675.2 L1072.44,675.2 L1079.68,675.2 L1086.92,675.2 L1094.16,675.2 L1101.4,625 L1108.64,675.2 L1115.88,675.2 L1123.12,675.2 L1130.36,675.2 L1137.6,675.2 L1144.84,675.2 L1152.08,675.2 L1159.32,625 L1166.56,675.2 L1173.8,675.2 L1181.04,675.2 L1188.28,675.2 L1195.52,675.2 L1202.76,675.2 L1210,675.2 L1217.24,675.2 L1224.48,625 L1231.72,675.2 L1238.96,625 L1246.2,675.2 L1253.44,625 L1260.68,675.2 L1267.92,675.2 L1275.16,675.2 L1282.4,625 L1289.64,675.2 L1296.88,675.2 L1304.12,675.2 L1311.36,675.2 L1318.6,675.2 L1325.84,675.2 L1333.08,675.2 L1340.32,675.2 L1347.56,675.2 L1354.8,675.2 L1362.04,675.2 L1369.28,675.2 L1376.52,675.2 L1383.76,625 L1391,625 L1398.24,625 L1405.48,675.2 L1412.72,675.2 L1419.96,675.2 L1427.2,675.2 L1434.44,675.2 L1441.68,675.2 L1448.92,675.2 L1456.16,675.2 L1463.4,675.2 L1470.64,675.2 L1477.88,625 L1485.12,625 L1492.36,675.2" fill="none" stroke="#ffc0ce" stroke-width="2.2" stroke-linejoin="round"/>
<path d="M848,625 L850.41,625 L852.83,625 L855.24,625 L857.65,625 L860.07,625 L862.48,625 L864.89,625 L867.31,625 L869.72,625 L872.13,625 L874.55,625 L876.96,625 L879.37,625 L881.79,625 L884.2,625 L886.61,625 L889.03,625 L891.44,625 L893.85,625 L896.27,625 L898.68,625 L901.09,625 L903.51,625 L905.92,625 L908.33,625 L910.75,625 L913.16,625 L915.57,625 L917.99,625 L920.4,625 L922.81,625.33 L925.23,626.28 L927.64,627.78 L930.05,629.77 L932.47,632.18 L934.88,634.95 L937.29,638.01 L939.71,641.31 L942.12,644.76 L944.53,648.31 L946.95,651.89 L949.36,655.44 L951.77,658.89 L954.19,662.19 L956.6,665.25 L959.01,668.02 L961.43,670.43 L963.84,672.42 L966.25,673.92 L968.67,674.87 L971.08,675.2 L973.49,675.2 L975.91,675.2 L978.32,675.2 L980.73,675.2 L983.15,675.2 L985.56,675.2 L987.97,675.2 L990.39,675.2 L992.8,675.2 L995.21,675.2 L997.63,675.2 L1000.04,675.2 L1002.45,675.2 L1004.87,675.2 L1007.28,675.2 L1009.69,675.2 L1012.11,675.2 L1014.52,675.2 L1016.93,675.2 L1019.35,675.2 L1021.76,675.2 L1024.17,674.87 L1026.59,673.92 L1029,672.42 L1031.41,670.43 L1033.83,668.02 L1036.24,665.25 L1038.65,662.19 L1041.07,658.89 L1043.48,655.44 L1045.89,651.89 L1048.31,648.31 L1050.72,644.76 L1053.13,641.31 L1055.55,638.01 L1057.96,634.95 L1060.37,632.18 L1062.79,629.77 L1065.2,627.78 L1067.61,626.28 L1070.03,625.33 L1072.44,625 L1074.85,625 L1077.27,625 L1079.68,625 L1082.09,625 L1084.51,625 L1086.92,625 L1089.33,625 L1091.75,625 L1094.16,625 L1096.57,625 L1098.99,625 L1101.4,625 L1103.81,625 L1106.23,625 L1108.64,625 L1111.05,625 L1113.47,625 L1115.88,625 L1118.29,625 L1120.71,625 L1123.12,625 L1125.53,625.33 L1127.95,626.28 L1130.36,627.78 L1132.77,629.77 L1135.19,632.18 L1137.6,634.95 L1140.01,638.01 L1142.43,641.31 L1144.84,644.76 L1147.25,648.31 L1149.67,651.89 L1152.08,655.44 L1154.49,658.89 L1156.91,662.19 L1159.32,665.25 L1161.73,668.02 L1164.15,670.43 L1166.56,672.42 L1168.97,673.92 L1171.39,674.87 L1173.8,675.2 L1176.21,674.87 L1178.63,673.92 L1181.04,672.42 L1183.45,670.43 L1185.87,668.02 L1188.28,665.25 L1190.69,662.19 L1193.11,658.89 L1195.52,655.44 L1197.93,651.89 L1200.35,648.31 L1202.76,644.76 L1205.17,641.31 L1207.59,638.01 L1210,634.95 L1212.41,632.18 L1214.83,629.77 L1217.24,627.78 L1219.65,626.28 L1222.07,625.33 L1224.48,625 L1226.89,625 L1229.31,625 L1231.72,625 L1234.13,625 L1236.55,625 L1238.96,625 L1241.37,625 L1243.79,625 L1246.2,625 L1248.61,625 L1251.03,625 L1253.44,625 L1255.85,625 L1258.27,625 L1260.68,625 L1263.09,625 L1265.51,625 L1267.92,625 L1270.33,625 L1272.75,625 L1275.16,625 L1277.57,625.33 L1279.99,626.28 L1282.4,627.78 L1284.81,629.77 L1287.23,632.18 L1289.64,634.95 L1292.05,638.01 L1294.47,641.31 L1296.88,644.76 L1299.29,648.31 L1301.71,651.89 L1304.12,655.44 L1306.53,658.89 L1308.95,662.19 L1311.36,665.25 L1313.77,668.02 L1316.19,670.43 L1318.6,672.42 L1321.01,673.92 L1323.43,674.87 L1325.84,675.2 L1328.25,674.87 L1330.67,673.92 L1333.08,672.42 L1335.49,670.43 L1337.91,668.02 L1340.32,665.25 L1342.73,662.19 L1345.15,658.89 L1347.56,655.44 L1349.97,651.89 L1352.39,648.31 L1354.8,644.76 L1357.21,641.31 L1359.63,638.01 L1362.04,634.95 L1364.45,632.18 L1366.87,629.77 L1369.28,627.78 L1371.69,626.28 L1374.11,625.33 L1376.52,625 L1378.93,625.33 L1381.35,626.28 L1383.76,627.78 L1386.17,629.77 L1388.59,632.18 L1391,634.95 L1393.41,638.01 L1395.83,641.31 L1398.24,644.76 L1400.65,648.31 L1403.07,651.89 L1405.48,655.44 L1407.89,658.89 L1410.31,662.19 L1412.72,665.25 L1415.13,668.02 L1417.55,670.43 L1419.96,672.42 L1422.37,673.92 L1424.79,674.87 L1427.2,675.2 L1429.61,674.87 L1432.03,673.92 L1434.44,672.42 L1436.85,670.43 L1439.27,668.02 L1441.68,665.25 L1444.09,662.19 L1446.51,658.89 L1448.92,655.44 L1451.33,651.89 L1453.75,648.31 L1456.16,644.76 L1458.57,641.31 L1460.99,638.01 L1463.4,634.95 L1465.81,632.18 L1468.23,629.77 L1470.64,627.78 L1473.05,626.28 L1475.47,625.33 L1477.88,625 L1480.29,625 L1482.71,625 L1485.12,625 L1487.53,625 L1489.95,625 L1492.36,625" fill="none" stroke="#84d8ab" stroke-width="2.4" stroke-linejoin="round"/>
<path d="M848,625 L1492.36,625" fill="none" stroke="#6ad7ec" stroke-width="2.4"/></svg>
<div style="position:absolute;left:1525px;top:0;width:11px;height:864px;background:#e2e6e9"></div>
<div style="position:absolute;left:1527px;top:0;width:8px;height:234px;border-radius:0 0 4px 4px;background:#aab1bd"></div>
</div></body></html>
